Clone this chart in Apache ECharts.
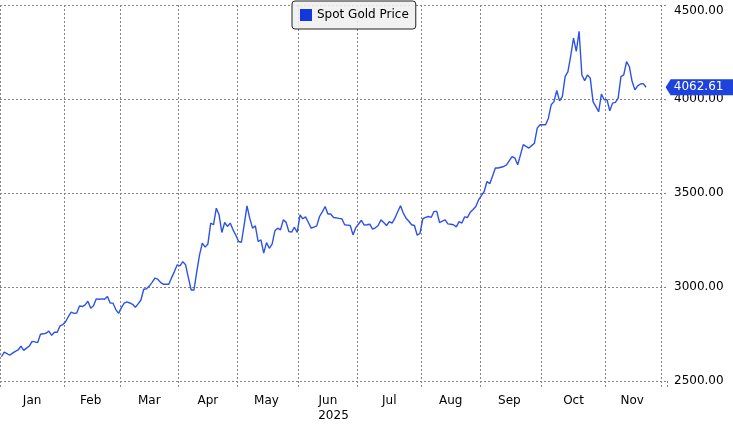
<!DOCTYPE html>
<html>
<head>
<meta charset="utf-8">
<title>Spot Gold Price</title>
<script src="https://cdn.jsdelivr.net/npm/echarts@6/dist/echarts.min.js"></script>
<style>
html, body { margin: 0; padding: 0; background: #fff; }
#main { width: 733px; height: 428px; }
</style>
</head>
<body>
<div id="main"></div>
<script>
var seriesName = 'Spot Gold Price';
var yearLabel = '2025';
var monthNames = ['Jan', 'Feb', 'Mar', 'Apr', 'May', 'Jun', 'Jul', 'Aug', 'Sep', 'Oct', 'Nov', 'Dec'];
var yTicks = [2500, 3000, 3500, 4000, 4500];
var firstDay = '2025-01-01';
var lastDay = '2025-12-02';
var noTradeDays = ['2025-04-18'];

// daily closes, one per trading day from Jan 1
var goldPrice = [
    2629, 2653, 2645, 2637, 2648, 2658, 2665, 2686, 2663, 2675,
    2686, 2711, 2708, 2704, 2749, 2751, 2754, 2765, 2743, 2759,
    2759, 2793, 2800, 2815, 2843, 2866, 2860, 2862, 2899, 2896,
    2905, 2924, 2887, 2900, 2937, 2935, 2937, 2935, 2949, 2914,
    2914, 2880, 2860, 2890, 2914, 2921, 2915, 2908, 2892, 2910,
    2931, 2988, 2991, 3005, 3025, 3047, 3042, 3025, 3015, 3015,
    3015, 3050, 3082, 3118, 3112, 3135, 3118, 3050, 2984, 2984,
    3080, 3171, 3233, 3212, 3229, 3340, 3331, 3419, 3384, 3290,
    3343, 3322, 3340, 3304, 3275, 3242, 3238, 3330, 3432, 3365,
    3313, 3325, 3242, 3251, 3180, 3236, 3206, 3228, 3299, 3313,
    3304, 3357, 3345, 3295, 3292, 3318, 3290, 3384, 3363, 3373,
    3343, 3313, 3319, 3325, 3375, 3400, 3428, 3388, 3388, 3370,
    3368, 3365, 3363, 3331, 3329, 3327, 3277, 3316, 3335, 3355,
    3329, 3331, 3334, 3308, 3315, 3327, 3357, 3343, 3327, 3348,
    3340, 3366, 3400, 3432, 3393, 3366, 3350, 3331, 3327, 3275,
    3286, 3363, 3370, 3375, 3370, 3402, 3402, 3343, 3350, 3357,
    3336, 3334, 3331, 3320, 3348, 3340, 3373, 3370, 3397, 3412,
    3428, 3464, 3486, 3508, 3561, 3549, 3590, 3633, 3633, 3637,
    3641, 3650, 3672, 3694, 3686, 3650, 3703, 3757, 3748, 3739,
    3752, 3765, 3845, 3863, 3863, 3863, 3898, 3969, 3986, 4045,
    3990, 4013, 4119, 4146, 4230, 4324, 4253, 4360, 4128, 4098,
    4128, 4111, 3986, 3959, 3932, 4026, 3996, 3996, 3937, 3978,
    3982, 4005, 4119, 4128, 4199, 4173, 4093, 4049, 4070, 4080,
    4082, 4062.61
];

// trading days (weekdays) for the category axis
var dates = [];
var d = new Date(firstDay + 'T00:00:00Z');
var end = new Date(lastDay + 'T00:00:00Z');
while (d <= end) {
    var wd = d.getUTCDay();
    var s = d.toISOString().slice(0, 10);
    if (wd !== 0 && wd !== 6 && noTradeDays.indexOf(s) < 0) {
        dates.push(s);
    }
    d.setUTCDate(d.getUTCDate() + 1);
}

// first trading day of each month -> grid lines, middle day -> month label
var monthStarts = [];
for (var i = 0; i < dates.length; i++) {
    if (i === 0 || dates[i].slice(5, 7) !== dates[i - 1].slice(5, 7)) {
        monthStarts.push(i);
    }
}
var monthMids = {};
for (var k = 0; k < monthStarts.length - 1; k++) {
    monthMids[Math.floor((monthStarts[k] + monthStarts[k + 1] - 1) / 2)] = true;
}
var yearMid = Math.floor((dates.length - 1) / 2);

var lastPrice = goldPrice[goldPrice.length - 1];

var font = 'DejaVu Sans';
var gridColor = '#858585';

var chart = echarts.init(document.getElementById('main'), null, { renderer: 'canvas' });

var option = {
    animation: false,
    backgroundColor: '#ffffff',
    grid: {
        left: -2.4,
        right: 66,
        top: 5,
        bottom: 47,
        containLabel: false
    },
    legend: {
        data: [seriesName],
        left: 292,
        top: 1,
        icon: 'rect',
        itemWidth: 12,
        itemHeight: 12,
        selectedMode: false,
        backgroundColor: 'rgba(238,238,238,0.85)',
        borderColor: '#222',
        borderWidth: 1,
        borderRadius: 3,
        padding: [8, 7, 8, 8],
        itemStyle: { color: '#1238dd' },
        textStyle: { fontFamily: font, fontSize: 12, color: '#000' }
    },
    xAxis: [
        {
            type: 'category',
            data: dates,
            boundaryGap: true,
            axisLine: { show: false },
            axisTick: {
                show: true,
                length: 7,
                interval: function (idx) { return monthStarts.indexOf(idx) >= 0; },
                lineStyle: { color: gridColor, type: [2, 2], width: 1 }
            },
            splitLine: {
                show: true,
                showMaxLine: false,
                interval: function (idx) { return monthStarts.indexOf(idx) >= 0; },
                lineStyle: { color: gridColor, type: [2, 2], width: 1 }
            },
            axisLabel: {
                interval: function (idx) { return monthMids[idx] === true; },
                formatter: function (v) { return monthNames[parseInt(v.slice(5, 7), 10) - 1]; },
                margin: 14,
                fontFamily: font,
                fontSize: 12,
                color: '#000'
            }
        },
        {
            type: 'category',
            data: dates,
            boundaryGap: true,
            position: 'bottom',
            offset: 15,
            axisLine: { show: false },
            axisTick: { show: false },
            splitLine: { show: false },
            axisLabel: {
                interval: function (idx) { return idx === yearMid; },
                formatter: function () { return yearLabel; },
                margin: 14,
                fontFamily: font,
                fontSize: 12,
                color: '#000'
            }
        }
    ],
    yAxis: {
        type: 'value',
        position: 'right',
        min: yTicks[0],
        max: yTicks[yTicks.length - 1],
        interval: yTicks[1] - yTicks[0],
        axisLine: { show: false },
        axisTick: { show: false },
        splitLine: {
            show: true,
            lineStyle: { color: gridColor, type: [2, 2], width: 1 }
        },
        axisLabel: {
            margin: 7,
            fontFamily: font,
            fontSize: 12,
            color: '#000',
            verticalAlignMaxLabel: 'top',
            formatter: function (v) { return v.toFixed(2); }
        }
    },
    series: [
        {
            name: seriesName,
            type: 'line',
            data: goldPrice,
            showSymbol: false,
            symbol: 'none',
            color: '#2d52e6',
            lineStyle: { color: '#2d52e6', width: 1.4 },
            markPoint: {
                silent: true,
                symbol: 'path://M0,8 L5,0 L68,0 L68,16 L5,16 Z',
                symbolSize: [68, 16],
                symbolOffset: ['50%', 0],
                itemStyle: { color: '#1e42dc' },
                label: {
                    show: true,
                    position: 'inside',
                    offset: [-1, 0],
                    color: '#fff',
                    fontFamily: font,
                    fontSize: 12,
                    formatter: function (p) { return p.value.toFixed(2); }
                },
                data: [
                    { coord: [dates[dates.length - 1], lastPrice], value: lastPrice }
                ]
            }
        }
    ]
};

chart.setOption(option);
</script>
</body>
</html>
